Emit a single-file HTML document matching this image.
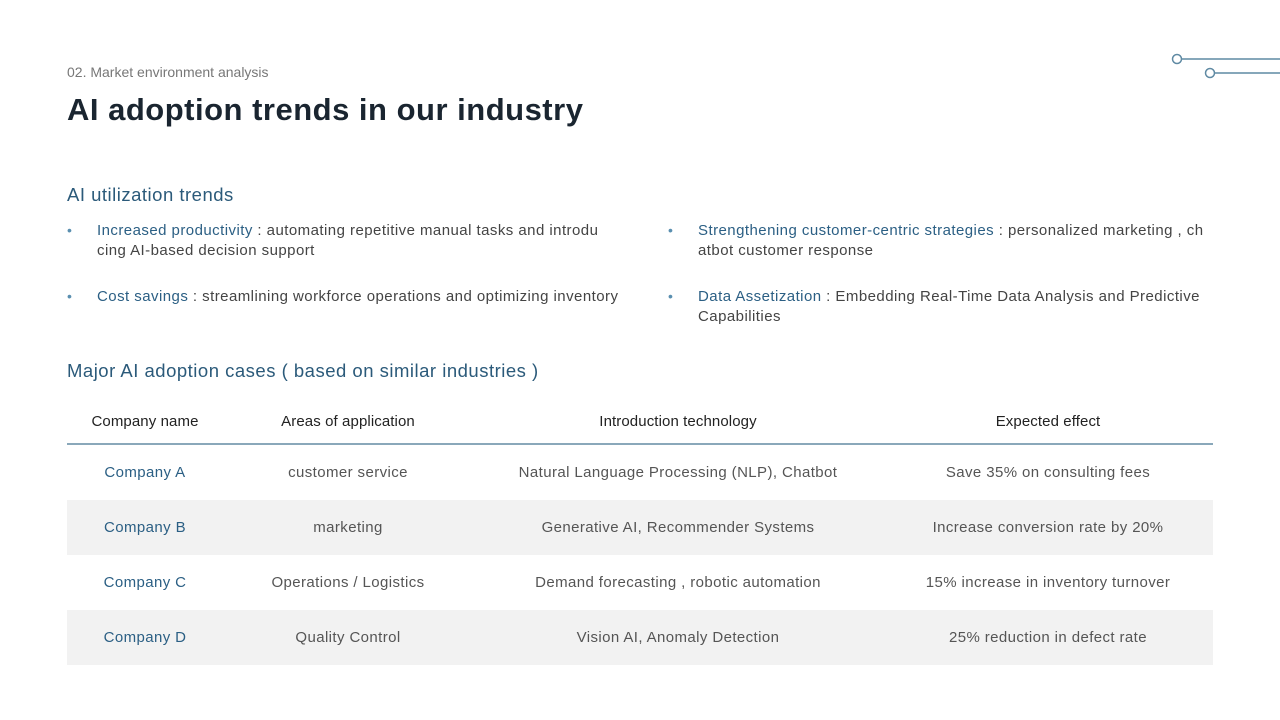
<!DOCTYPE html>
<html><head><meta charset="utf-8"><style>
body{margin:0;width:1280px;height:720px;background:#fff;position:relative;overflow:hidden;font-family:"Liberation Sans",sans-serif;}
.a{position:absolute;white-space:nowrap;}
.sub{left:67px;top:64px;font-size:14px;color:#777;}
.title{left:67px;top:92px;font-size:31px;font-weight:bold;color:#1a2530;letter-spacing:0.5px;}
.h2{font-size:18.5px;color:#2b5a7a;letter-spacing:0.5px;}
.b{font-size:15px;color:#444;line-height:20px;letter-spacing:0.45px;}
.b .k{color:#2b5f84;}
.dot{position:absolute;font-size:14px;color:#5a8fb0;}
table{position:absolute;left:67px;top:400px;width:1146px;border-collapse:collapse;font-size:15px;letter-spacing:0.4px;}
td,th{text-align:center;padding:0;font-weight:normal;}
th{height:43px;color:#222;border-bottom:2px solid #8aa8ba;letter-spacing:0.1px;}
td{height:55px;color:#555;}
td:first-child{color:#2b5f84;}
tr.g td{background:#f2f2f2;}
</style></head><body>
<div class="a sub">02. Market environment analysis</div>
<div class="a title">AI adoption trends in our industry</div>
<svg class="a" style="left:1160px;top:45px" width="120" height="40">
<line x1="17" y1="14" x2="120" y2="14" stroke="#5f8aa3" stroke-width="1.5"/>
<circle cx="17" cy="14" r="4.5" fill="#fff" stroke="#5f8aa3" stroke-width="1.5"/>
<line x1="50" y1="28" x2="120" y2="28" stroke="#5f8aa3" stroke-width="1.5"/>
<circle cx="50" cy="28" r="4.5" fill="#fff" stroke="#5f8aa3" stroke-width="1.5"/>
</svg>
<div class="a h2" style="left:67px;top:184px">AI utilization trends</div>
<div class="dot" style="left:67px;top:222px">•</div>
<div class="a b" style="left:97px;top:221px"><span class="k">Increased productivity</span> : automating repetitive manual tasks and introdu<br>cing AI-based decision support</div>
<div class="dot" style="left:67px;top:288px">•</div>
<div class="a b" style="left:97px;top:287px"><span class="k">Cost savings</span> : streamlining workforce operations and optimizing inventory</div>
<div class="dot" style="left:668px;top:222px">•</div>
<div class="a b" style="left:698px;top:221px"><span class="k">Strengthening customer-centric strategies</span> : personalized marketing , ch<br>atbot customer response</div>
<div class="dot" style="left:668px;top:288px">•</div>
<div class="a b" style="left:698px;top:287px"><span class="k">Data Assetization</span> : Embedding Real-Time Data Analysis and Predictive<br>Capabilities</div>
<div class="a h2" style="left:67px;top:360px">Major AI adoption cases ( based on similar industries )</div>
<table>
<tr><th style="width:156px">Company name</th><th style="width:250px">Areas of application</th><th style="width:410px">Introduction technology</th><th>Expected effect</th></tr>
<tr><td>Company A</td><td>customer service</td><td>Natural Language Processing (NLP), Chatbot</td><td>Save 35% on consulting fees</td></tr>
<tr class="g"><td>Company B</td><td>marketing</td><td>Generative AI, Recommender Systems</td><td>Increase conversion rate by 20%</td></tr>
<tr><td>Company C</td><td>Operations / Logistics</td><td>Demand forecasting , robotic automation</td><td>15% increase in inventory turnover</td></tr>
<tr class="g"><td>Company D</td><td>Quality Control</td><td>Vision AI, Anomaly Detection</td><td>25% reduction in defect rate</td></tr>
</table>
</body></html>
